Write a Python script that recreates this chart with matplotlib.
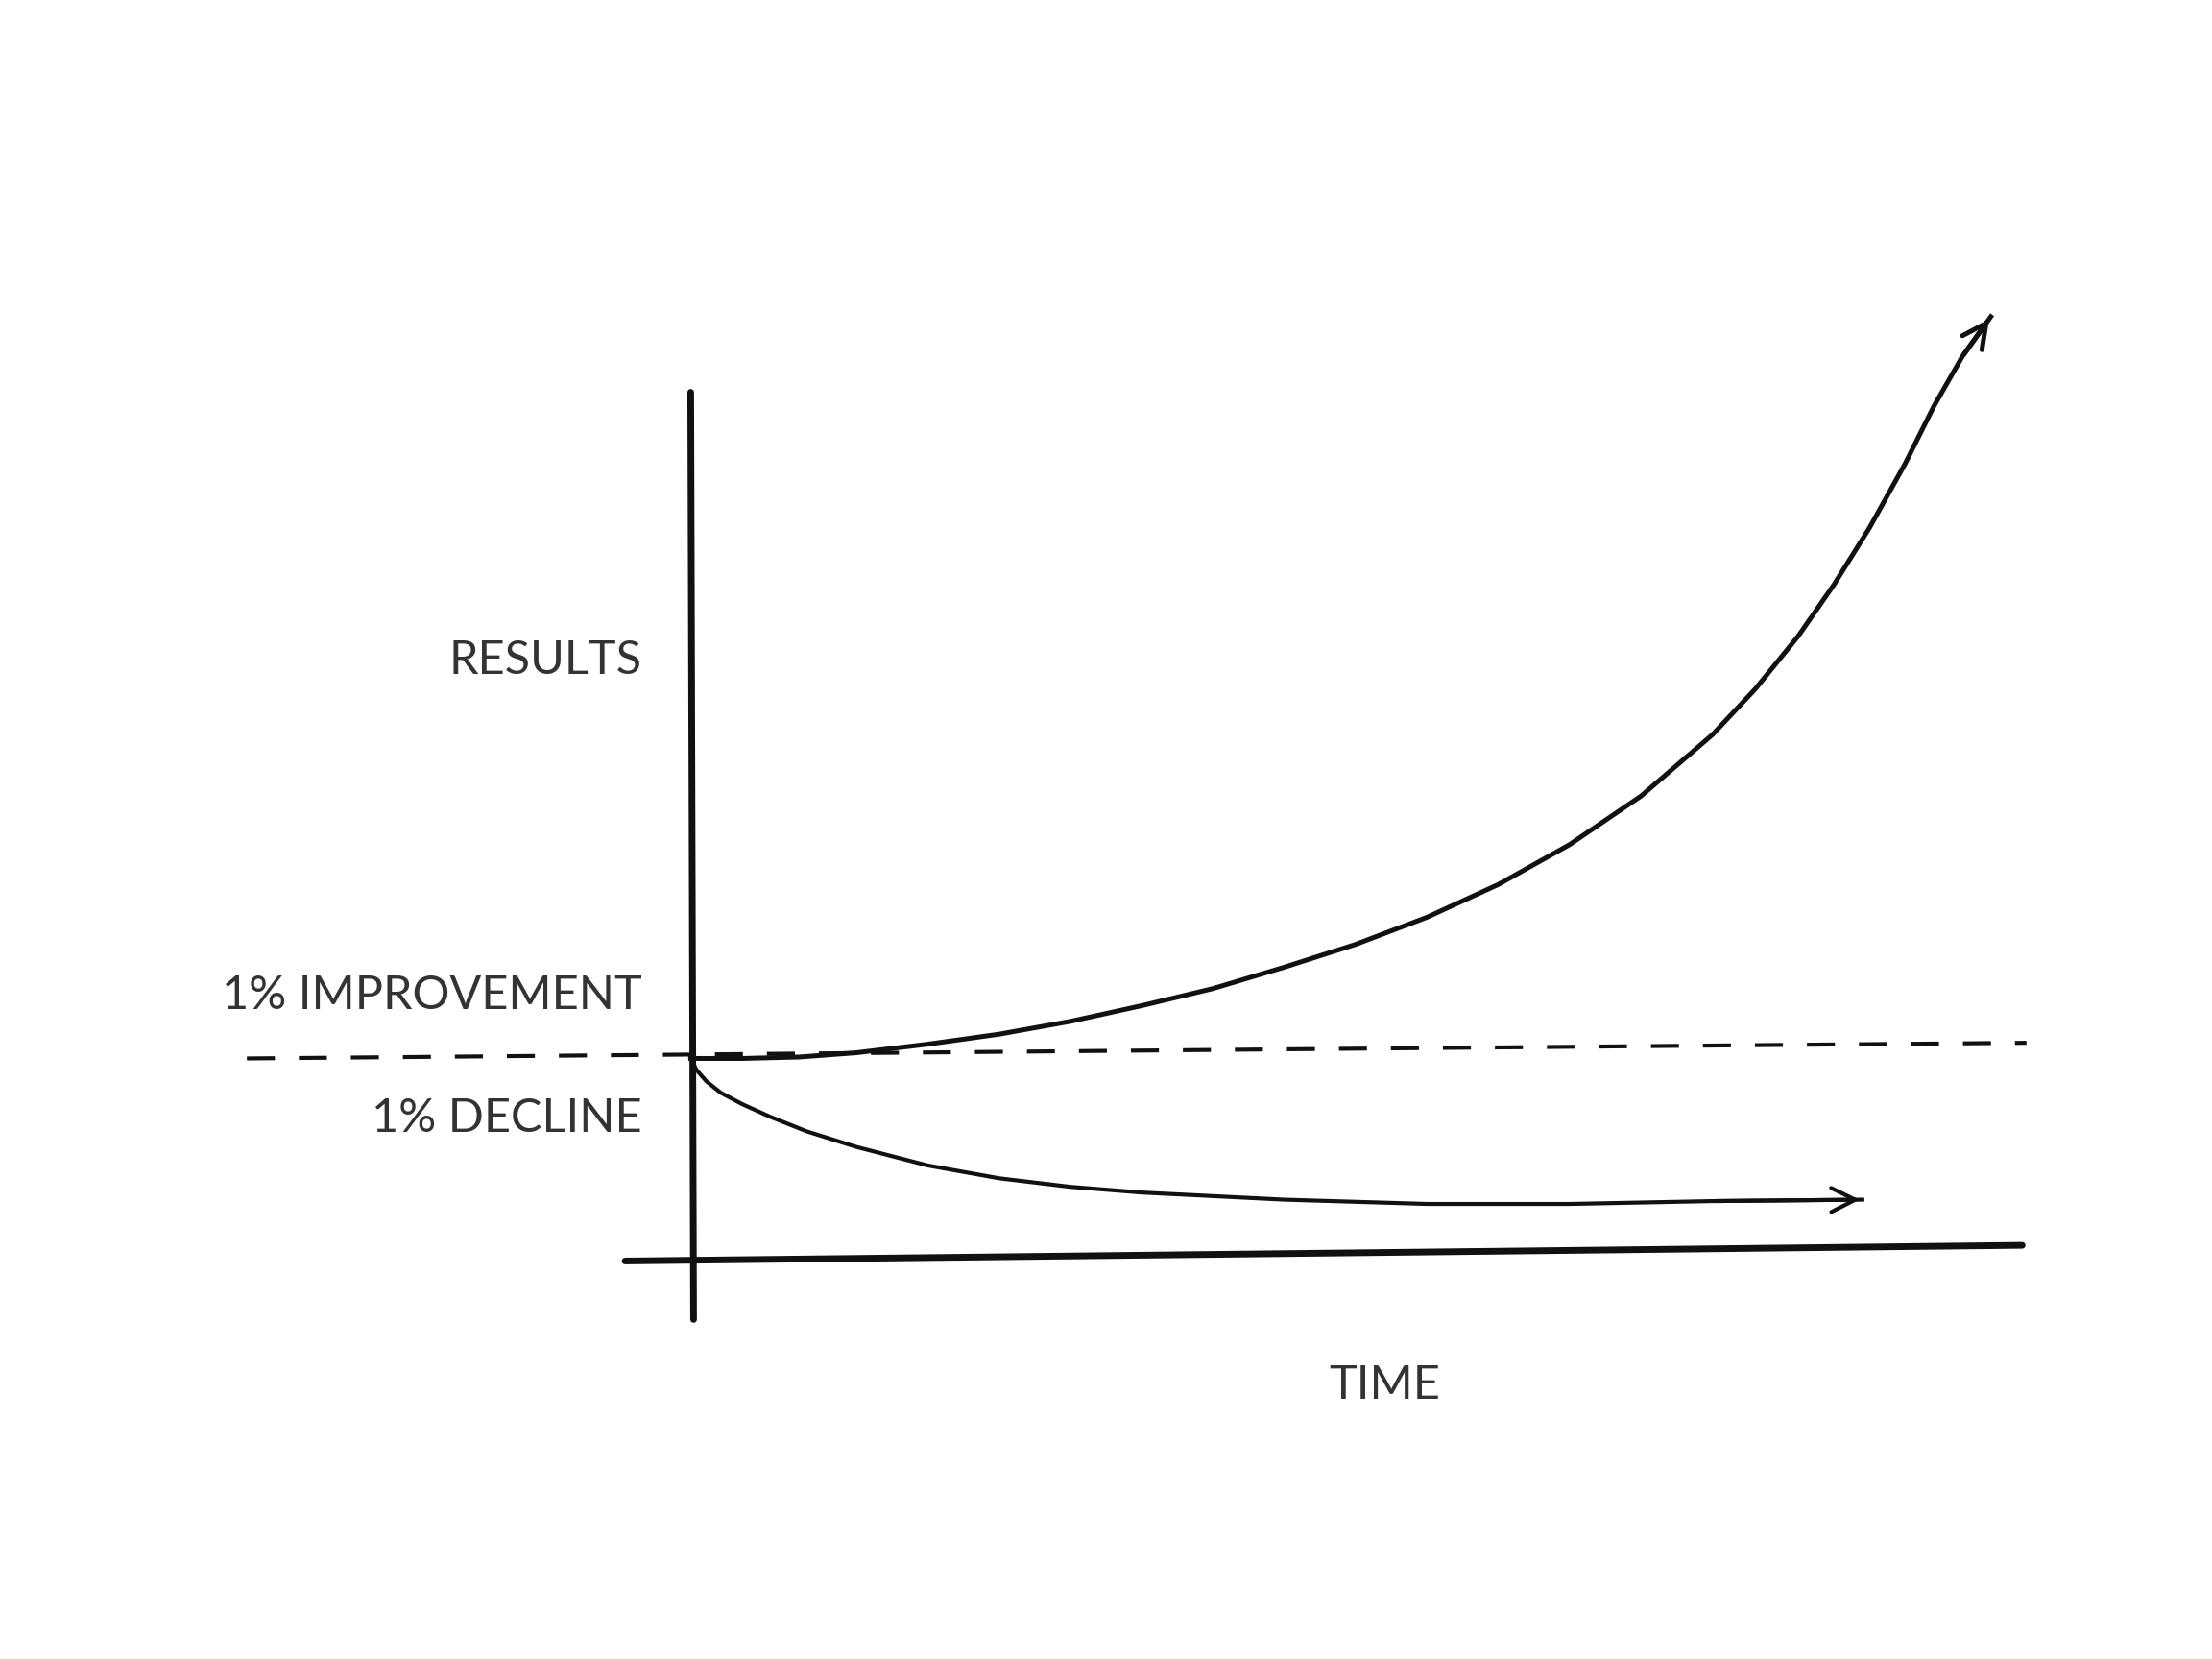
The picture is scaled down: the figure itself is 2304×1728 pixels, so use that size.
import matplotlib.pyplot as plt
import numpy as np

# Values (units: picture coordinates, y grows downward)
improve_x = [484, 520, 560, 600, 650, 700, 750, 800, 850, 900, 950, 1000, 1050, 1100,
             1150, 1200, 1230, 1260, 1285, 1310, 1335, 1355, 1375, 1395]
improve_y = [742, 742, 741, 738, 732, 725, 716, 705, 693, 678, 662, 643, 620, 592,
             558, 515, 483, 446, 410, 370, 325, 285, 250, 222]
decline_x = [484, 488, 495, 505, 520, 540, 565, 600, 650, 700, 750, 800, 900, 1000, 1100, 1200, 1305]
decline_y = [742, 750, 758, 766, 774, 783, 793, 804, 817, 826, 832, 836, 841, 844, 844, 842, 841]
dash_x = [173, 1420]
dash_y = [742, 731]
vaxis_x = [484, 486]
vaxis_y = [275, 925]
haxis_x = [438, 1417]
haxis_y = [884, 873]
labels = ["RESULTS", "1% IMPROVEMENT", "1% DECLINE", "TIME"]

fig = plt.figure(figsize=(23.04, 17.28), dpi=100)
ax = fig.add_axes([0, 0, 1, 1])
ax.set_xlim(0, 1550)
ax.set_ylim(1163, 0)
ax.axis('off')

ax.plot(vaxis_x, vaxis_y, color='#111', lw=5, solid_capstyle='round')
ax.plot(haxis_x, haxis_y, color='#111', lw=5, solid_capstyle='round')
ax.plot(dash_x, dash_y, color='#111', lw=3, dashes=(7, 6))
ax.plot(improve_x, improve_y, color='#111', lw=3.6, solid_joinstyle='round')
ax.plot(decline_x, decline_y, color='#111', lw=3, solid_joinstyle='round')
ax.annotate('', xy=(improve_x[-1], improve_y[-1]), xytext=(improve_x[-2], improve_y[-2]),
            arrowprops=dict(arrowstyle='->,head_length=1.8,head_width=0.9', lw=3.6, color='#111'))
ax.annotate('', xy=(decline_x[-1], decline_y[-1]), xytext=(decline_x[-2], decline_y[-2]),
            arrowprops=dict(arrowstyle='->,head_length=1.8,head_width=0.9', lw=3, color='#111'))

fkw = dict(family=['Lato', 'DejaVu Sans'], fontweight='normal', fontsize=35, color='#333')
ax.text(450, 463, labels[0], ha='right', va='center', **fkw)
ax.text(450, 698, labels[1], ha='right', va='center', **fkw)
ax.text(450, 784, labels[2], ha='right', va='center', **fkw)
ax.text(970, 971, labels[3], ha='center', va='center', **fkw)

fig.savefig('out.png', dpi=100, facecolor='white')
